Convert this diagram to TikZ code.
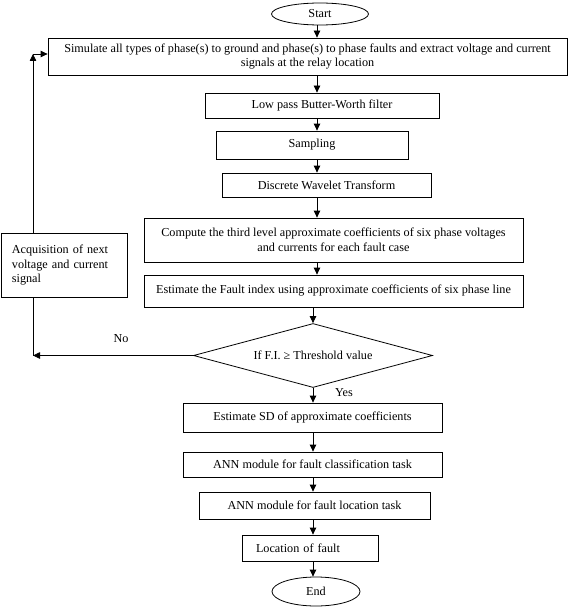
\documentclass[tikz,border=0pt]{standalone}
\usepackage{fontspec}
\setmainfont{Liberation Serif}
\usetikzlibrary{shapes.geometric,arrows.meta,calc}
\begin{document}
\begin{tikzpicture}[x=1pt,y=-1pt,
  txt/.style={font=\fontsize{12.2}{14.5}\selectfont},
  box/.style={draw,line width=0.8pt,inner sep=0pt,txt,align=center},
  term/.style={draw,ellipse,line width=0.8pt,inner sep=0pt,txt},
  decide/.style={draw,diamond,line width=0.8pt,inner sep=0pt,aspect=3.7,txt},
  arr/.style={-{Triangle[length=7pt,width=6.5pt]},line width=0.8pt},
  ln/.style={line width=0.8pt}]
\useasboundingbox (0,0) rectangle (568,607);

\node[term,minimum width=97pt,minimum height=22pt] (start) at (320,14) {Start};
\node[box,minimum width=519pt,minimum height=37pt] (sim) at (307.5,56.5)
  {Simulate all types of phase(s) to ground and phase(s) to phase faults and extract voltage and current\\signals at the relay location};
\node[box,minimum width=234pt,minimum height=25pt] (low) at (322,105.5) {Low pass Butter-Worth filter};
\node[box,minimum width=192pt,minimum height=28pt] (samp) at (312,145) {Sampling};
\node[box,minimum width=209pt,minimum height=24pt] (dwt) at (326.5,185) {Discrete Wavelet Transform};
\node[box,minimum width=379pt,minimum height=44pt] (comp) at (333.5,240)
  {Compute the third level approximate coefficients of six phase voltages\\and currents for each fault case};
\node[box,minimum width=379pt,minimum height=32pt] (fi) at (333.5,291)
  {Estimate the Fault index using approximate coefficients of six phase line};
\node[decide,minimum width=239pt,minimum height=64pt] (dec) at (313,355.5) {If F.I. ≥ Threshold value};
\node[box,align=left,text width=104pt,inner xsep=11pt,minimum height=64pt,anchor=north west] (acq) at (0.5,233)
  {Acquisition of next\\voltage and current\\signal};
\node[box,minimum width=259pt,minimum height=29pt] (sd) at (312.5,417.5) {Estimate SD of approximate coefficients};
\node[box,minimum width=259pt,minimum height=25pt] (ann1) at (312.5,464.5) {ANN module for fault classification task};
\node[box,minimum width=231pt,minimum height=27pt] (ann2) at (314.5,505.5) {ANN module for fault location task};
\node[box,align=left,text width=108pt,inner xsep=14pt,minimum height=26pt] (loc) at (310,548) {Location of fault};
\node[term,minimum width=88pt,minimum height=29pt] (end) at (316,591.5) {End};

\node[txt] (no) at (121,339) {No};
\node[txt] (yes) at (344,393) {Yes};

\coordinate (c) at (317,0);
\coordinate (lx) at (33,0);
\coordinate (corner) at (33,54);

\draw[arr] (start.south -| c) -- (sim.north -| c);
\draw[arr] (sim.south -| c) -- (low.north -| c);
\draw[arr] (low.south -| c) -- (samp.north -| c);
\draw[arr] (samp.south -| c) -- (dwt.north -| c);
\draw[arr] (dwt.south -| c) -- (comp.north -| c);
\draw[arr] (comp.south -| c) -- (fi.north -| c);
\draw[arr] (fi.south -| dec.north) -- (dec.north);
\draw[arr] (dec.south) -- (dec.south |- sd.north);
\draw[arr] (sd.south -| dec.south) -- (ann1.north -| dec.south);
\draw[arr] (ann1.south -| dec.south) -- (ann2.north -| dec.south);
\draw[arr] (ann2.south -| dec.south) -- (loc.north -| dec.south);
\draw[arr] (loc.south -| dec.south) -- (end.north -| dec.south);

\draw[arr] (dec.west) -- (dec.west -| lx);
\draw[ln] (dec.west -| lx) -- (acq.south -| lx);
\draw[arr] (acq.north -| lx) -- (corner);
\draw[arr] (corner) -- (corner -| sim.west);
\end{tikzpicture}
\end{document}
